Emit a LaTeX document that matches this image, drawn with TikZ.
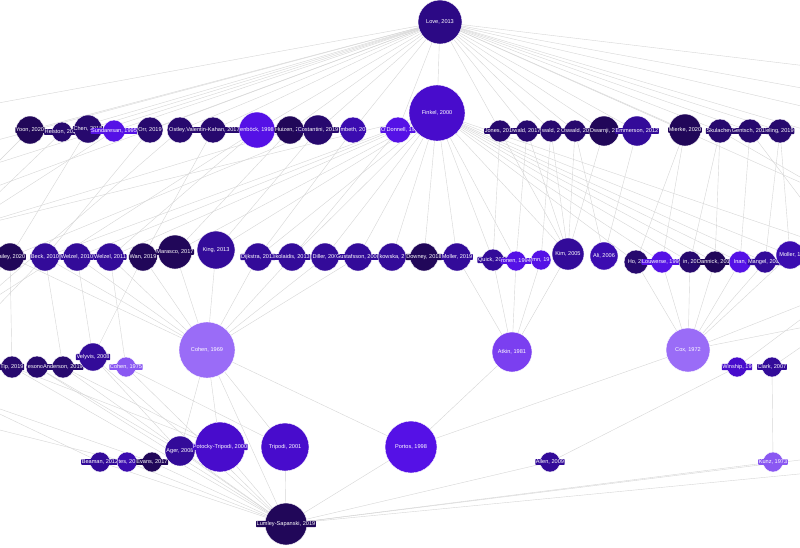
\documentclass[tikz,border=0pt]{standalone}
\usepackage{fontspec}
\setmainfont{Liberation Sans}
\definecolor{cdk}{HTML}{210759}
\definecolor{cdb}{HTML}{27096E}
\definecolor{cmd}{HTML}{330B99}
\definecolor{cmb}{HTML}{3B0CB0}
\definecolor{cbr}{HTML}{5511E6}
\definecolor{cfk}{HTML}{480CCC}
\definecolor{clt}{HTML}{9A6CF7}
\definecolor{cl2}{HTML}{8A58F2}
\definecolor{cl3}{HTML}{7B3FF0}
\definecolor{clv}{HTML}{2C0985}
\definecolor{edgec}{HTML}{D6D6D6}
\newcommand{\cnd}[6]{%
  \node[bub,fill=#5,minimum size=#4*2pt] (#1) at (#2,#3) {};
  \node[lab,fill=#5] at (#1) {#6};}
\begin{document}
\begin{tikzpicture}[x=1pt,y=-1pt,
  bub/.style={circle,draw=white,line width=0.4pt,inner sep=0pt},
  lab/.style={text=white,font=\fontsize{5.6}{6.5}\selectfont,inner sep=0.6pt,rounded corners=0.8pt},
  lnk/.style={draw=edgec,line width=0.4pt}]
\fill[white] (0,0) rectangle (800,547);
\useasboundingbox (0,0) rectangle (800,547);
% off-canvas anchors
\coordinate (L0) at (-40,110);
\coordinate (L1) at (-40,150); \coordinate (L2) at (-40,175); \coordinate (L3) at (-40,200);
\coordinate (L4) at (-40,230); \coordinate (L5) at (-40,320); \coordinate (L6) at (-40,345);
\coordinate (L7) at (-40,395); \coordinate (L8) at (-40,420);
\coordinate (R1) at (840,95); \coordinate (R2) at (840,115); \coordinate (R3) at (840,140);
\coordinate (R4) at (840,200); \coordinate (R5) at (840,250); \coordinate (R6) at (840,290);
\coordinate (R7) at (840,320); \coordinate (R8) at (840,470); \coordinate (R9) at (840,455);
\coordinate (R10) at (840,70);
\pgfdeclarelayer{fg}\pgfsetlayers{main,fg}
\begin{pgfonlayer}{fg}
\cnd{love}{440}{22}{22}{clv}{Love, 2013}
% row 1
\cnd{yoon}{30}{130}{14}{cdk}{Yoon, 2020}
\cnd{helston}{62}{132}{10}{cdb}{Helston, 2021}
\cnd{chen}{88}{129}{14}{cdb}{Chen, 2018}
\cnd{sund}{114}{131}{11}{cbr}{Sundaresan, 1995}
\cnd{orr}{150}{130}{13}{cdb}{Orr, 2019}
\cnd{ostley}{180}{130}{13}{cdb}{Ostley, 2}
\cnd{valentin}{213}{130}{13}{cdb}{Valentin-Kahan, 2017}
\cnd{enbock}{257}{130}{18}{cbr}{enböck, 1998}
\cnd{huizen}{290}{130}{14}{cdk}{Huizen, 201}
\cnd{costa}{318}{130}{15}{cdb}{Costantini, 2019}
\cnd{mbeth}{353}{130}{13}{cmb}{mbeth, 20}
\cnd{odon}{398}{130}{13}{cbr}{O'Donnell, 19}
\cnd{finkel}{437}{113}{28}{cfk}{Finkel, 2000}
\cnd{jones}{500}{131}{11}{cdb}{Jones, 2016}
\cnd{wald1}{527}{131}{11}{cdb}{wald, 2017}
\cnd{wald2}{551}{131}{11}{cdb}{wald, 2}
\cnd{oswald}{575}{131}{11}{cdb}{Oswald, 20}
\cnd{dwarnji}{604}{131}{15}{cdk}{Dwarnji, 20}
\cnd{emmerson}{637}{131}{15}{cmd}{Emmerson, 2012}
\cnd{mierke}{685}{130}{16}{cdk}{Mierke, 2020}
\cnd{skula}{720}{131}{12}{cdb}{Skulachev,}
\cnd{gentsch}{750}{131}{12}{cdb}{Gentsch, 2018}
\cnd{eling}{780}{131}{12}{cdb}{eling, 2019}
% row 2
\cnd{bailey}{10}{257}{14}{cdk}{Bailey, 2020}
\cnd{beck}{45}{257}{14}{cmd}{Beck, 2010}
\cnd{welzela}{77}{257}{14}{cmd}{Welzel, 2010}
\cnd{welzelb}{110}{257}{14}{cmd}{Welzel, 2011}
\cnd{wan}{143}{257}{14}{cdk}{Wan, 2019}
\cnd{marasco}{175}{252}{17}{cdk}{Marasco, 2017}
\cnd{king}{216}{250}{19}{cmd}{King, 2013}
\cnd{dijkstra}{258}{257}{14}{cmd}{Dijkstra, 2011}
\cnd{nikol}{292}{257}{14}{cmd}{ikolaidis, 2013}
\cnd{diller}{325}{257}{14}{cmd}{Diller, 200}
\cnd{gustaf}{358}{257}{14}{cmd}{Gustafsson, 2008}
\cnd{kowska}{392}{257}{14}{cmd}{kowska, 2}
\cnd{downey}{424}{257}{14}{cdk}{Downey, 2018}
\cnd{mollera}{457}{257}{14}{cmd}{Moller, 2019}
\cnd{quick}{493}{260}{11}{cmd}{Quick, 2008}
\cnd{ronen}{516}{261}{10}{cbr}{ronen, 1994}
\cnd{mn}{541}{260}{10}{cbr}{mn, 19}
\cnd{kim}{568}{254}{16}{cmd}{Kim, 2005}
\cnd{ali}{604}{256}{14}{cmb}{Ali, 2006}
\cnd{ho}{636}{262}{12}{cdb}{Ho, 20}
\cnd{louw}{662}{262}{11}{cbr}{Louwerse, 1995}
\cnd{inrow}{690}{262}{11}{cdb}{in, 20}
\cnd{dannick}{715}{262}{11}{cdk}{Dannick, 2018}
\cnd{inan}{740}{262}{11}{cbr}{Inan,}
\cnd{mangel}{765}{262}{11}{cmd}{Mangel, 2004}
\cnd{mollerb}{790}{255}{14}{cmb}{Moller, 1}
% row 3
\cnd{tip}{12}{367}{11}{cdb}{Tip, 2019}
\cnd{sonov}{37}{367}{11}{cdb}{esonov}
\cnd{anderson}{63}{367}{11}{cdb}{Anderson, 2019}
\cnd{velyvis}{93}{357}{14}{cmd}{Velyvis, 2008}
\cnd{cohenb}{126}{367}{10}{cl2}{Cohen, 1975}
\cnd{cohena}{207}{350}{28}{clt}{Cohen, 1969}
\cnd{atkin}{512}{352}{20}{cl3}{Atkin, 1981}
\cnd{cox}{688}{350}{22}{clt}{Cox, 1972}
\cnd{winship}{737}{367}{10}{cfk}{Winship, 19}
\cnd{clark}{772}{367}{10}{cmd}{Clark, 2007}
% row 4
\cnd{beaman}{100}{462}{10}{cmd}{Beaman, 2012}
\cnd{tes}{127}{462}{10}{cmb}{tes, 20}
\cnd{evans}{152}{462}{10}{cdk}{Evans, 2017}
\cnd{ager}{180}{451}{15}{cmd}{Ager, 2008}
\cnd{potocky}{220}{447}{25}{cfk}{Potocky-Tripodi, 2000}
\cnd{tripodi}{285}{447}{24}{cfk}{Tripodi, 2001}
\cnd{portos}{411}{447}{26}{cbr}{Portos, 1998}
\cnd{allen}{550}{462}{10}{cmd}{Allen, 2009}
\cnd{kunz}{773}{462}{10}{cl2}{Kunz, 1973}
\cnd{lumley}{286}{524}{21}{cdk}{Lumley-Sapanski, 2019}
\end{pgfonlayer}
% ---- edges ----
\foreach \t in {yoon,helston,chen,sund,orr,ostley,valentin,enbock,huizen,costa,mbeth,odon,finkel,jones,wald1,wald2,oswald,dwarnji,emmerson,mierke,skula,gentsch,eling,L0,L1,L2,L3,R10,R1,R2,R3,R4}
  \draw[lnk] (love) -- (\t);
\foreach \t in {beck,welzela,welzelb,marasco,king,dijkstra,nikol,diller,gustaf,kowska,downey,mollera,quick,ronen,kim,ho,louw,inrow,dannick,inan,mangel,mollerb,R5,L4}
  \draw[lnk] (finkel) -- (\t);
\foreach \s/\t in {yoon/L3,helston/L4,chen/bailey,sund/L4,orr/beck,ostley/L5,valentin/wan,enbock/L5,enbock/welzelb,huizen/marasco,costa/king,mbeth/dijkstra,odon/nikol,huizen/L4,costa/bailey,
  jones/kim,jones/quick,wald1/kim,wald1/ronen,wald2/kim,wald2/mn,oswald/kim,oswald/ali,emmerson/ali,dwarnji/kim,
  mierke/ho,mierke/louw,skula/inrow,skula/dannick,gentsch/inan,eling/mangel,eling/mollerb,gentsch/R5,skula/R4}
  \draw[lnk] (\s) -- (\t);
\foreach \s in {bailey,beck,welzela,welzelb,wan,marasco,king,dijkstra,nikol,diller,gustaf}
  \draw[lnk] (\s) -- (cohena);
\foreach \s in {quick,ronen,mn,kim,mollera}
  \draw[lnk] (\s) -- (atkin);
\foreach \s in {ho,louw,inrow,dannick,inan,mangel,mollerb,R6,R7}
  \draw[lnk] (\s) -- (cox);
\foreach \s/\t in {bailey/tip,beck/anderson,welzela/velyvis,wan/velyvis,beck/L6,bailey/L5,welzelb/cohenb,
  tip/potocky,sonov/ager,anderson/potocky,velyvis/ager,L7/beaman,L8/tes,L7/evans,
  cohena/potocky,cohena/ager,cohena/portos,cohena/tripodi,cohenb/tripodi,
  cox/portos,atkin/portos,winship/allen,clark/kunz,R6/winship,R7/clark,lumley/R8,lumley/R9}
  \draw[lnk] (\s) -- (\t);
\foreach \s in {tip,sonov,anderson,velyvis,cohenb,cohena,beaman,tes,evans,ager,potocky,tripodi,portos,allen,kunz}
  \draw[lnk] (\s) -- (lumley);
\end{tikzpicture}
\end{document}
